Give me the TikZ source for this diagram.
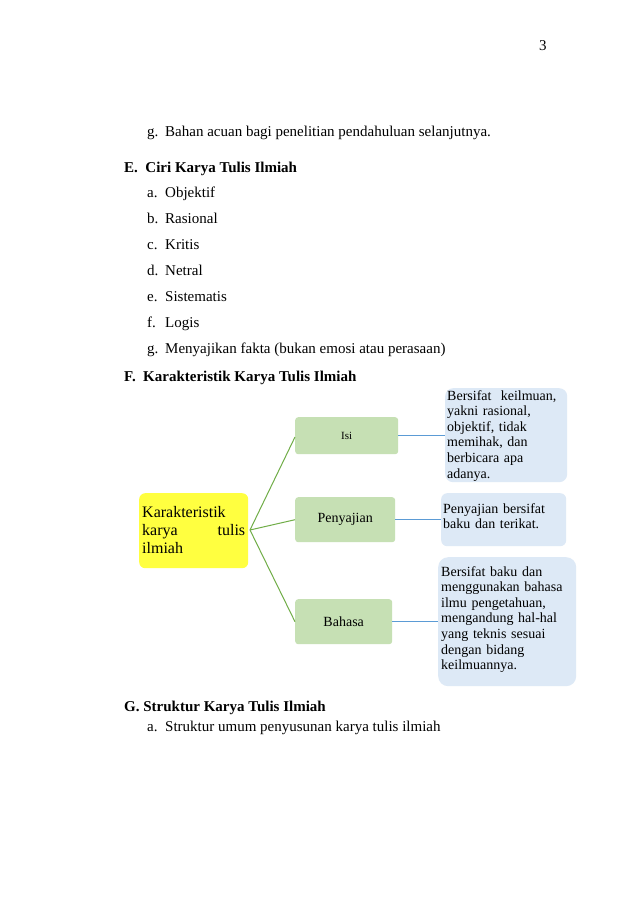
\documentclass[tikz,border=0pt]{standalone}
\usepackage{fontspec}
\setmainfont{Liberation Serif}
\begin{document}
\begin{tikzpicture}[x=1pt,y=-1pt,
  body/.style={anchor=base west,inner sep=0,font=\fontsize{15}{17}\selectfont},
  hd/.style={body,font=\fontsize{15}{17}\selectfont\bfseries}]
\definecolor{gbox}{RGB}{198,224,180}
\definecolor{bbox}{RGB}{221,233,246}
\definecolor{ybox}{RGB}{255,255,64}
\definecolor{gline}{RGB}{112,173,71}
\definecolor{bline}{RGB}{91,155,213}
\useasboundingbox (0,0) rectangle (638,902);
\fill[white] (0,0) rectangle (638,902);
\node[body] (pg) at (539,50) {3};
\node[body] (g0l) at (147,136) {g.};\node[body] (g0) at (165,136) {Bahan acuan bagi penelitian pendahuluan selanjutnya.};
\node[hd] (E) at (124,172) {E.\ \ Ciri Karya Tulis Ilmiah};
\foreach \l/\t/\y in {a/Objektif/197,b/Rasional/223,c/Kritis/249,d/Netral/275,e/Sistematis/301,f/Logis/327,g/Menyajikan fakta (bukan emosi atau perasaan)/353}{
  \node[body] (L\l) at (147,\y) {\l.};\node[body] (T\l) at (165,\y) {\t};}
\node[hd] (F) at (124,381) {F.\ \ Karakteristik Karya Tulis Ilmiah};
% diagram
\node[fill=ybox,rounded corners=6pt,minimum width=109,minimum height=75,anchor=north west,inner sep=0] (K) at (139,493) {};
\node[anchor=west,text width=103,align=justify,inner sep=0,font=\fontsize{16}{18}\selectfont] (Kt) at (142,530) {Karakteristik karya\hfill tulis ilmiah};
\node[fill=gbox,rounded corners=3pt,minimum width=103,minimum height=37,anchor=north west,inner sep=0] (I) at (295,417) {};
\node[font=\fontsize{11}{13}\selectfont] at (I) {Isi};
\node[fill=gbox,rounded corners=3pt,minimum width=100,minimum height=45,anchor=north west,inner sep=0,font=\fontsize{14}{16}\selectfont] (P) at (295,497) {Penyajian};
\node[fill=gbox,rounded corners=3pt,minimum width=97,minimum height=45,anchor=north west,inner sep=0,font=\fontsize{14}{16}\selectfont] (B) at (295,599) {Bahasa};
\node[fill=bbox,rounded corners=8pt,minimum width=122,minimum height=94,anchor=north west,inner sep=0] (D1) at (445,388) {};
\node[anchor=north west,inner sep=0,text width=120,align=left,font=\fontsize{14}{15.6}\selectfont] (D1t) at (447,390) {Bersifat\ \ keilmuan,\\yakni rasional,\\objektif, tidak\\memihak, dan\\berbicara apa\\adanya.};
\node[fill=bbox,rounded corners=6pt,minimum width=125,minimum height=53,anchor=north west,inner sep=0] (D2) at (441,493) {};
\node[anchor=north west,inner sep=0,text width=124,align=left,font=\fontsize{14}{15.6}\selectfont] (D2t) at (443,503) {Penyajian bersifat\\baku dan terikat.};
\node[fill=bbox,rounded corners=10pt,minimum width=138,minimum height=129,anchor=north west,inner sep=0] (D3) at (438,557) {};
\node[anchor=north west,inner sep=0,text width=138,align=left,font=\fontsize{14}{15.6}\selectfont] (D3t) at (441,566) {Bersifat baku dan\\menggunakan bahasa\\ilmu pengetahuan,\\mengandung hal-hal\\yang teknis sesuai\\dengan bidang\\keilmuannya.};
\coordinate (k0) at (250,530);
\draw[draw=gline,line width=1pt] (k0) -- (I.west|-0,437);
\draw[draw=gline,line width=1pt] (k0) -- (P.west);
\draw[draw=gline,line width=1pt] (k0) -- (B.west);
\draw[draw=bline,line width=1pt] (I.east) -- (D1.west|-I.east);
\draw[draw=bline,line width=1pt] (P.east) -- (D2.west|-P.east);
\draw[draw=bline,line width=1pt] (B.east) -- (D3.west|-B.east);
\node[hd] (G) at (124,711) {G.\ Struktur Karya Tulis Ilmiah};
\node[body] (Ga) at (147,731) {a.};\node[body] (Gat) at (165,731) {Struktur umum penyusunan karya tulis ilmiah};
\end{tikzpicture}
\end{document}
